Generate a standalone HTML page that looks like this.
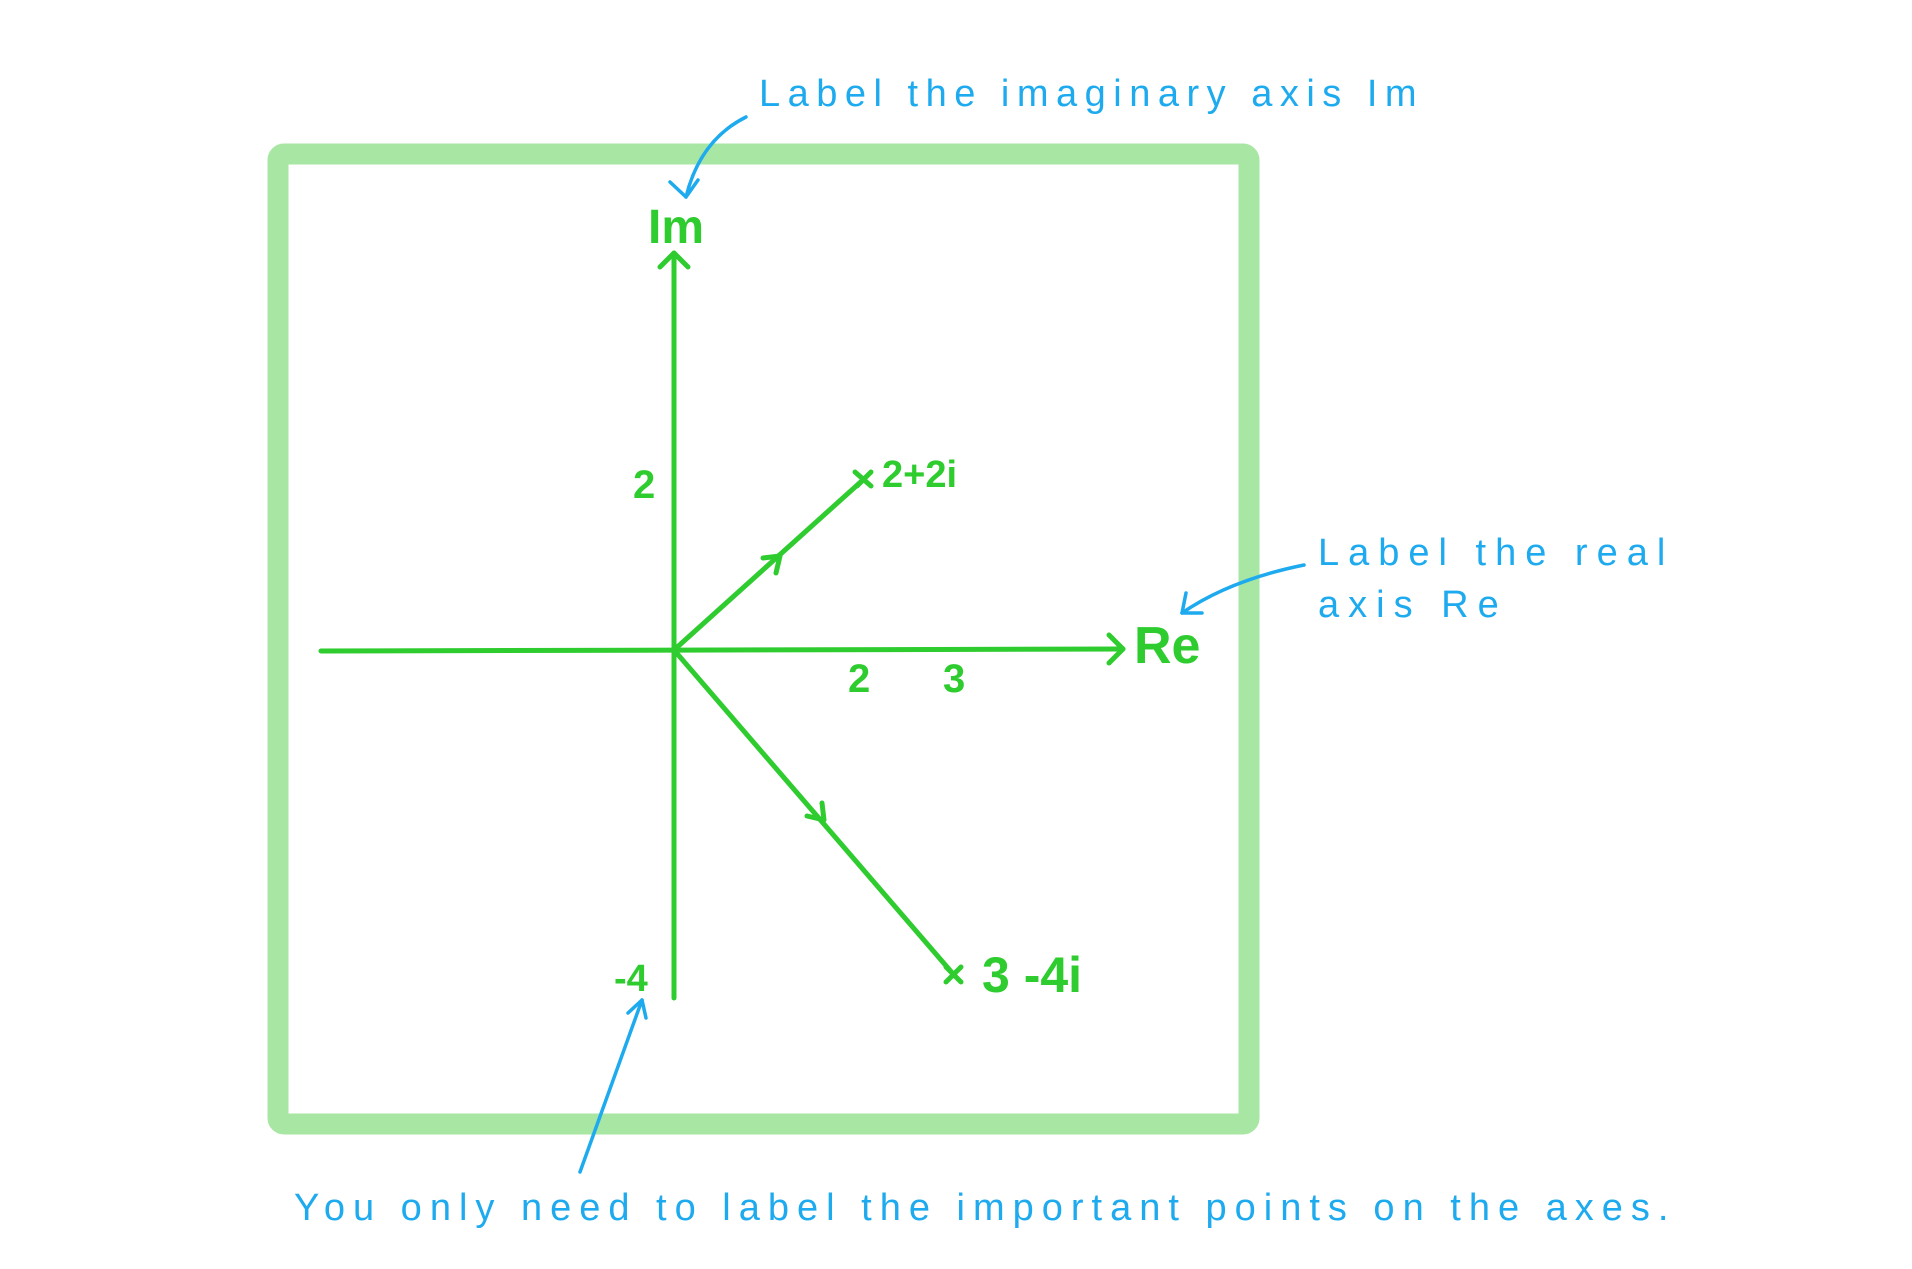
<!DOCTYPE html>
<html><head><meta charset="utf-8"><style>
html,body{margin:0;padding:0;background:#fff;}
svg{display:block;}
text{font-family:"Liberation Sans",sans-serif;}
.g{fill:#2ecc2e;font-weight:bold;}
.b{fill:#1eaaee;font-size:38px;letter-spacing:7.5px;}
</style></head><body>
<svg width="1912" height="1269" viewBox="0 0 1912 1269" xmlns="http://www.w3.org/2000/svg">
<rect x="278" y="154" width="971" height="970" rx="6" fill="none" stroke="#a8e6a4" stroke-width="21"/>
<g stroke="#2ecc2e" stroke-width="5" fill="none" stroke-linecap="round" stroke-linejoin="round">
<line x1="674" y1="998" x2="674" y2="253"/>
<polyline points="660,267 674,253 688,267"/>
<line x1="321" y1="651" x2="1123" y2="649"/>
<polyline points="1109,635 1123,649 1109,663"/>
<line x1="674" y1="650" x2="864" y2="479"/>
<polyline points="763,558 780,556 776,573"/>
<line x1="674" y1="650" x2="954" y2="975"/>
<polyline points="807,816 824,820 822,803"/>
<line x1="855" y1="472" x2="871" y2="486"/><line x1="871" y1="472" x2="857" y2="486"/>
<line x1="946" y1="967" x2="961" y2="982"/><line x1="961" y1="967" x2="946" y2="982"/>
</g>
<text class="g" x="648" y="243" font-size="48">Im</text>
<text class="g" x="1134" y="663" font-size="52">Re</text>
<text class="g" x="633" y="498" font-size="40">2</text>
<text class="g" x="848" y="692" font-size="40">2</text>
<text class="g" x="943" y="692" font-size="40">3</text>
<text class="g" x="882" y="487" font-size="38">2+2i</text>
<text class="g" x="982" y="992" font-size="50">3 -4i</text>
<text class="g" x="614" y="991" font-size="38">-4</text>
<g stroke="#1eaaee" stroke-width="3.5" fill="none" stroke-linecap="round" stroke-linejoin="round">
<path d="M746,117 Q700,140 686,197"/>
<polyline points="670,182 686,197 698,180"/>
<path d="M1304,565 Q1230,580 1182,613"/>
<polyline points="1186,593 1182,613 1202,613"/>
<line x1="580" y1="1172" x2="642" y2="1000"/>
<polyline points="628,1013 642,1000 646,1018"/>
</g>
<text class="b" x="759" y="106">Label the imaginary axis Im</text>
<text class="b" x="1318" y="565" style="letter-spacing:9px">Label the real</text>
<text class="b" x="1318" y="617" style="letter-spacing:9px">axis Re</text>
<text class="b" x="294" y="1220" style="letter-spacing:8px">You only need to label the important points on the axes.</text>
</svg>
</body></html>
